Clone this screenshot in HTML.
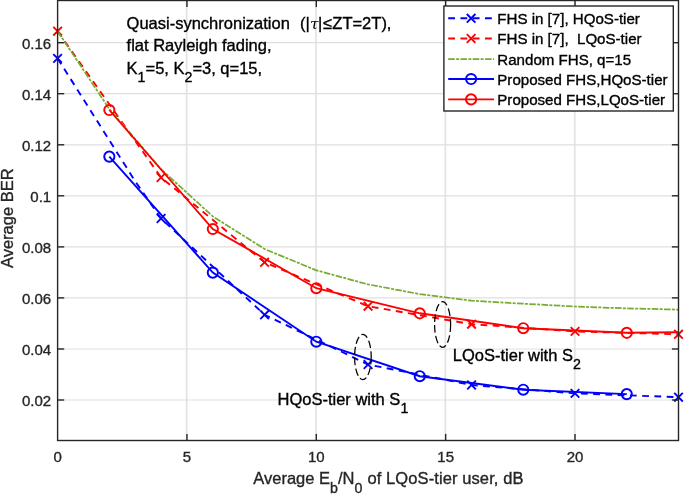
<!DOCTYPE html>
<html lang="en"><head><meta charset="utf-8"><title>Average BER vs Eb/N0</title>
<style>html,body{margin:0;padding:0;background:#fff;}body{width:685px;height:495px;overflow:hidden;font-family:"Liberation Sans",Arial,sans-serif;}svg{display:block;}</style>
</head><body>
<svg width="685" height="495" viewBox="0 0 685 495">
<rect x="0" y="0" width="685" height="495" fill="#fff"/>
<line x1="186.65" y1="0.5" x2="186.65" y2="440.5" stroke="#e3e3e3" stroke-width="1.7"/>
<line x1="316.01" y1="0.5" x2="316.01" y2="440.5" stroke="#e3e3e3" stroke-width="1.7"/>
<line x1="445.36" y1="0.5" x2="445.36" y2="440.5" stroke="#e3e3e3" stroke-width="1.7"/>
<line x1="574.72" y1="0.5" x2="574.72" y2="440.5" stroke="#e3e3e3" stroke-width="1.7"/>
<line x1="57.6" y1="42.7" x2="678.5" y2="42.7" stroke="#dfdfdf" stroke-width="1.2"/>
<line x1="57.6" y1="93.7" x2="678.5" y2="93.7" stroke="#dfdfdf" stroke-width="1.2"/>
<line x1="57.6" y1="144.8" x2="678.5" y2="144.8" stroke="#dfdfdf" stroke-width="1.2"/>
<line x1="57.6" y1="195.8" x2="678.5" y2="195.8" stroke="#dfdfdf" stroke-width="1.2"/>
<line x1="57.6" y1="246.9" x2="678.5" y2="246.9" stroke="#dfdfdf" stroke-width="1.2"/>
<line x1="57.6" y1="297.9" x2="678.5" y2="297.9" stroke="#dfdfdf" stroke-width="1.2"/>
<line x1="57.6" y1="349.0" x2="678.5" y2="349.0" stroke="#dfdfdf" stroke-width="1.2"/>
<line x1="57.6" y1="400.0" x2="678.5" y2="400.0" stroke="#dfdfdf" stroke-width="1.2"/>
<polyline points="57.60,58.40 135.21,181.30 161.08,218.50 264.57,314.80 368.05,364.50 471.53,385.00 575.02,393.40 678.50,397.20" fill="none" stroke="#0000ff" stroke-width="1.9" stroke-dasharray="6.8 5.46"/>
<path d="M53.30 54.10L61.90 62.70M53.30 62.70L61.90 54.10" stroke="#0000ff" stroke-width="1.9" fill="none"/>
<path d="M156.78 214.20L165.38 222.80M156.78 222.80L165.38 214.20" stroke="#0000ff" stroke-width="1.9" fill="none"/>
<path d="M260.27 310.50L268.87 319.10M260.27 319.10L268.87 310.50" stroke="#0000ff" stroke-width="1.9" fill="none"/>
<path d="M363.75 360.20L372.35 368.80M363.75 368.80L372.35 360.20" stroke="#0000ff" stroke-width="1.9" fill="none"/>
<path d="M467.23 380.70L475.83 389.30M467.23 389.30L475.83 380.70" stroke="#0000ff" stroke-width="1.9" fill="none"/>
<path d="M570.72 389.10L579.32 397.70M570.72 397.70L579.32 389.10" stroke="#0000ff" stroke-width="1.9" fill="none"/>
<path d="M674.20 392.90L682.80 401.50M674.20 401.50L682.80 392.90" stroke="#0000ff" stroke-width="1.9" fill="none"/>
<polyline points="57.60,31.20 161.08,177.50 264.57,262.30 368.05,306.20 471.53,324.20 575.02,331.40 678.50,334.30" fill="none" stroke="#ff0000" stroke-width="1.9" stroke-dasharray="6.8 5.46"/>
<path d="M53.30 26.90L61.90 35.50M53.30 35.50L61.90 26.90" stroke="#ff0000" stroke-width="1.9" fill="none"/>
<path d="M156.78 173.20L165.38 181.80M156.78 181.80L165.38 173.20" stroke="#ff0000" stroke-width="1.9" fill="none"/>
<path d="M260.27 258.00L268.87 266.60M260.27 266.60L268.87 258.00" stroke="#ff0000" stroke-width="1.9" fill="none"/>
<path d="M363.75 301.90L372.35 310.50M363.75 310.50L372.35 301.90" stroke="#ff0000" stroke-width="1.9" fill="none"/>
<path d="M467.23 319.90L475.83 328.50M467.23 328.50L475.83 319.90" stroke="#ff0000" stroke-width="1.9" fill="none"/>
<path d="M570.72 327.10L579.32 335.70M570.72 335.70L579.32 327.10" stroke="#ff0000" stroke-width="1.9" fill="none"/>
<path d="M674.20 330.00L682.80 338.60M674.20 338.60L682.80 330.00" stroke="#ff0000" stroke-width="1.9" fill="none"/>
<polyline points="57.60,31.20 109.34,109.00 161.08,169.20 212.82,216.40 264.57,249.00 316.31,270.30 368.05,284.40 419.79,294.10 471.53,300.70 523.27,303.70 575.02,306.50 626.76,308.40 678.50,309.60" fill="none" stroke="#77ac30" stroke-width="1.75" stroke-dasharray="6.6 1.3 3.0 1.36"/>
<polyline points="109.34,156.60 212.82,272.60 316.31,341.70 419.79,376.20 523.27,389.70 626.76,394.10" fill="none" stroke="#0000ff" stroke-width="1.9"/>
<circle cx="109.34" cy="156.60" r="5.1" stroke="#0000ff" stroke-width="1.95" fill="none"/>
<circle cx="212.82" cy="272.60" r="5.1" stroke="#0000ff" stroke-width="1.95" fill="none"/>
<circle cx="316.31" cy="341.70" r="5.1" stroke="#0000ff" stroke-width="1.95" fill="none"/>
<circle cx="419.79" cy="376.20" r="5.1" stroke="#0000ff" stroke-width="1.95" fill="none"/>
<circle cx="523.27" cy="389.70" r="5.1" stroke="#0000ff" stroke-width="1.95" fill="none"/>
<circle cx="626.76" cy="394.10" r="5.1" stroke="#0000ff" stroke-width="1.95" fill="none"/>
<polyline points="109.34,110.00 212.82,229.00 316.31,288.20 419.79,313.30 523.27,328.20 626.76,332.80 678.50,332.30" fill="none" stroke="#ff0000" stroke-width="1.9"/>
<circle cx="109.34" cy="110.00" r="5.1" stroke="#ff0000" stroke-width="1.95" fill="none"/>
<circle cx="212.82" cy="229.00" r="5.1" stroke="#ff0000" stroke-width="1.95" fill="none"/>
<circle cx="316.31" cy="288.20" r="5.1" stroke="#ff0000" stroke-width="1.95" fill="none"/>
<circle cx="419.79" cy="313.30" r="5.1" stroke="#ff0000" stroke-width="1.95" fill="none"/>
<circle cx="523.27" cy="328.20" r="5.1" stroke="#ff0000" stroke-width="1.95" fill="none"/>
<circle cx="626.76" cy="332.80" r="5.1" stroke="#ff0000" stroke-width="1.95" fill="none"/>
<rect x="57.6" y="0.5" width="620.9" height="440.0" fill="none" stroke="#262626" stroke-width="1.4"/>
<line x1="186.95" y1="440.5" x2="186.95" y2="433.9" stroke="#262626" stroke-width="1.4"/>
<line x1="186.95" y1="0.5" x2="186.95" y2="7.1" stroke="#262626" stroke-width="1.4"/>
<line x1="316.31" y1="440.5" x2="316.31" y2="433.9" stroke="#262626" stroke-width="1.4"/>
<line x1="316.31" y1="0.5" x2="316.31" y2="7.1" stroke="#262626" stroke-width="1.4"/>
<line x1="445.66" y1="440.5" x2="445.66" y2="433.9" stroke="#262626" stroke-width="1.4"/>
<line x1="445.66" y1="0.5" x2="445.66" y2="7.1" stroke="#262626" stroke-width="1.4"/>
<line x1="575.02" y1="440.5" x2="575.02" y2="433.9" stroke="#262626" stroke-width="1.4"/>
<line x1="575.02" y1="0.5" x2="575.02" y2="7.1" stroke="#262626" stroke-width="1.4"/>
<line x1="57.6" y1="42.7" x2="64.2" y2="42.7" stroke="#262626" stroke-width="1.4"/>
<line x1="678.5" y1="42.7" x2="671.9" y2="42.7" stroke="#262626" stroke-width="1.4"/>
<line x1="57.6" y1="93.7" x2="64.2" y2="93.7" stroke="#262626" stroke-width="1.4"/>
<line x1="678.5" y1="93.7" x2="671.9" y2="93.7" stroke="#262626" stroke-width="1.4"/>
<line x1="57.6" y1="144.8" x2="64.2" y2="144.8" stroke="#262626" stroke-width="1.4"/>
<line x1="678.5" y1="144.8" x2="671.9" y2="144.8" stroke="#262626" stroke-width="1.4"/>
<line x1="57.6" y1="195.8" x2="64.2" y2="195.8" stroke="#262626" stroke-width="1.4"/>
<line x1="678.5" y1="195.8" x2="671.9" y2="195.8" stroke="#262626" stroke-width="1.4"/>
<line x1="57.6" y1="246.9" x2="64.2" y2="246.9" stroke="#262626" stroke-width="1.4"/>
<line x1="678.5" y1="246.9" x2="671.9" y2="246.9" stroke="#262626" stroke-width="1.4"/>
<line x1="57.6" y1="297.9" x2="64.2" y2="297.9" stroke="#262626" stroke-width="1.4"/>
<line x1="678.5" y1="297.9" x2="671.9" y2="297.9" stroke="#262626" stroke-width="1.4"/>
<line x1="57.6" y1="349.0" x2="64.2" y2="349.0" stroke="#262626" stroke-width="1.4"/>
<line x1="678.5" y1="349.0" x2="671.9" y2="349.0" stroke="#262626" stroke-width="1.4"/>
<line x1="57.6" y1="400.0" x2="64.2" y2="400.0" stroke="#262626" stroke-width="1.4"/>
<line x1="678.5" y1="400.0" x2="671.9" y2="400.0" stroke="#262626" stroke-width="1.4"/>
<g font-family="Liberation Sans, Arial, sans-serif" font-size="15" fill="#262626" stroke="#262626" stroke-width="0.35">
<text x="51.2" y="48.5" text-anchor="end">0.16</text>
<text x="51.2" y="99.5" text-anchor="end">0.14</text>
<text x="51.2" y="150.6" text-anchor="end">0.12</text>
<text x="51.2" y="201.6" text-anchor="end">0.1</text>
<text x="51.2" y="252.7" text-anchor="end">0.08</text>
<text x="51.2" y="303.7" text-anchor="end">0.06</text>
<text x="51.2" y="354.8" text-anchor="end">0.04</text>
<text x="51.2" y="405.8" text-anchor="end">0.02</text>
<text x="57.60" y="462.0" text-anchor="middle">0</text>
<text x="186.95" y="462.0" text-anchor="middle">5</text>
<text x="316.31" y="462.0" text-anchor="middle">10</text>
<text x="445.66" y="462.0" text-anchor="middle">15</text>
<text x="575.02" y="462.0" text-anchor="middle">20</text>
</g>
<g font-family="Liberation Sans, Arial, sans-serif" font-size="16.5" fill="#262626" stroke="#262626" stroke-width="0.35">
<text transform="translate(13.0,218.2) rotate(-90)" text-anchor="middle">Average BER</text>
<text x="253.3" y="483.9">Average E<tspan font-size="14.2" dy="8.6">b</tspan><tspan dy="-8.6">/N</tspan><tspan font-size="14.2" dy="8.6">0</tspan><tspan dy="-8.6" dx="0.4" letter-spacing="0.1"> of LQoS-tier user, dB</tspan></text>
</g>
<g font-family="Liberation Sans, Arial, sans-serif" font-size="16.5" fill="#000" stroke="#000" stroke-width="0.35">
<text x="126.6" y="28.5" xml:space="preserve">Quasi-synchronization  <tspan dx="0.9">(|</tspan><tspan dx="0.3" font-family="DejaVu Serif, Liberation Serif, serif" font-style="italic" font-size="15.5" stroke="none">τ</tspan><tspan dx="-0.7">|</tspan><tspan dx="0.6">≤</tspan><tspan dx="0.5">ZT=2T),</tspan></text>
<text x="126.6" y="51.2">flat Rayleigh fading,</text>
<text x="126.6" y="73.7">K<tspan font-size="14.2" dy="8.3">1</tspan><tspan dy="-8.3">=5, K</tspan><tspan font-size="14.2" dy="8.3">2</tspan><tspan dy="-8.3">=3, q=15,</tspan></text>
<text x="452.8" y="360.6">LQoS-tier with S<tspan font-size="14.2" dy="8.3">2</tspan></text>
<text x="277.5" y="404.5">HQoS-tier with S<tspan font-size="14.2" dy="8.3">1</tspan></text>
</g>
<ellipse cx="442.6" cy="324.5" rx="8" ry="22.8" fill="none" stroke="#000" stroke-width="1.25" stroke-dasharray="7.5 3.2"/>
<ellipse cx="362.9" cy="357" rx="8.3" ry="22.7" fill="none" stroke="#000" stroke-width="1.25" stroke-dasharray="7.5 3.2"/>
<rect x="443.9" y="6.0" width="229.39999999999998" height="105.0" fill="#fff" stroke="#262626" stroke-width="1.4"/>
<line x1="448.2" y1="18.3" x2="494.0" y2="18.3" stroke="#0000ff" stroke-width="1.9" stroke-dasharray="6.8 5.46"/>
<path d="M466.80 14.00L475.40 22.60M466.80 22.60L475.40 14.00" stroke="#0000ff" stroke-width="1.9" fill="none"/>
<line x1="448.2" y1="38.5" x2="494.0" y2="38.5" stroke="#ff0000" stroke-width="1.9" stroke-dasharray="6.8 5.46"/>
<path d="M466.80 34.20L475.40 42.80M466.80 42.80L475.40 34.20" stroke="#ff0000" stroke-width="1.9" fill="none"/>
<line x1="448.2" y1="59.0" x2="494.0" y2="59.0" stroke="#77ac30" stroke-width="1.75" stroke-dasharray="6.6 1.3 3.0 1.36"/>
<line x1="448.2" y1="79.0" x2="494.0" y2="79.0" stroke="#0000ff" stroke-width="1.9"/>
<circle cx="471.10" cy="79.00" r="5.1" stroke="#0000ff" stroke-width="1.95" fill="none"/>
<line x1="448.2" y1="99.4" x2="494.0" y2="99.4" stroke="#ff0000" stroke-width="1.9"/>
<circle cx="471.10" cy="99.40" r="5.1" stroke="#ff0000" stroke-width="1.95" fill="none"/>
<g font-family="Liberation Sans, Arial, sans-serif" font-size="15.1" fill="#000" stroke="#000" stroke-width="0.35">
<text x="497.3" y="24.1" xml:space="preserve">FHS in [7], HQoS-tier</text>
<text x="497.3" y="44.3" xml:space="preserve">FHS in [7],  LQoS-tier</text>
<text x="497.3" y="64.8" xml:space="preserve">Random FHS, q=15</text>
<text x="497.3" y="84.8" xml:space="preserve">Proposed FHS,HQoS-tier</text>
<text x="497.3" y="105.2" xml:space="preserve">Proposed FHS,LQoS-tier</text>
</g>
</svg>
</body></html>
